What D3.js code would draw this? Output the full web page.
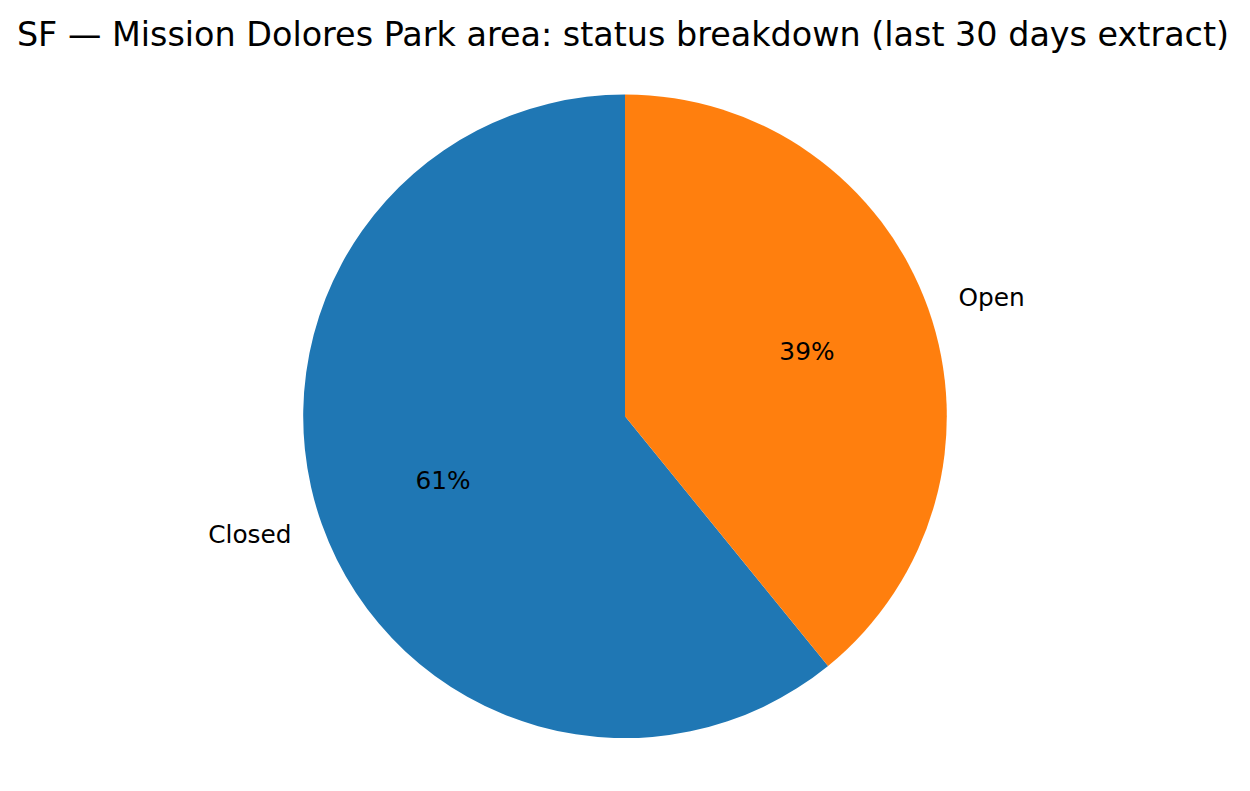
<!DOCTYPE html>
<html>
<head>
<meta charset="utf-8">
<script src="https://cdn.jsdelivr.net/npm/d3@7"></script>
<style>
  html, body { margin: 0; padding: 0; background: #fff; }
  svg { display: block; }
  text { font-family: "DejaVu Sans", sans-serif; fill: #000; }
</style>
</head>
<body>
<svg id="chart" width="1250" height="791"></svg>
<script>
const title = "SF — Mission Dolores Park area: status breakdown (last 30 days extract)";
const categories = ["Closed", "Open"];
const counts = [14, 9];
const colors = ["#1f77b4", "#ff7f0e"];

const W = 1250, H = 791;
const cx = 625, cy = 416.3, R = 321.8;

const svg = d3.select("#chart");

svg.append("text")
  .attr("x", 623)
  .attr("y", 46)
  .attr("text-anchor", "middle")
  .style("font-size", "33.4px")
  .text(title);

const data = categories.map((c, i) => ({ label: c, value: counts[i], color: colors[i] }));
const total = d3.sum(counts);

// matplotlib: startangle=90, counterclockwise -> D3: start 0, go negative
const pie = d3.pie().sort(null).value(d => d.value).startAngle(0).endAngle(-2 * Math.PI);
const arcs = pie(data);

const arc = d3.arc().innerRadius(0).outerRadius(R);
const pctArc = d3.arc().innerRadius(R * 0.6).outerRadius(R * 0.6);
const lblArc = d3.arc().innerRadius(R * 1.1).outerRadius(R * 1.1);

const g = svg.append("g").attr("transform", `translate(${cx},${cy})`);

g.selectAll("path.slice")
  .data(arcs)
  .join("path")
  .attr("class", "slice")
  .attr("d", arc)
  .attr("fill", d => d.data.color);

const dy = 8.5;

g.selectAll("text.pct")
  .data(arcs)
  .join("text")
  .attr("class", "pct")
  .attr("x", d => pctArc.centroid(d)[0])
  .attr("y", d => pctArc.centroid(d)[1] + dy)
  .attr("text-anchor", "middle")
  .style("font-size", "24.8px")
  .text(d => Math.round(d.value / total * 100) + "%");

g.selectAll("text.lbl")
  .data(arcs)
  .join("text")
  .attr("class", "lbl")
  .attr("x", d => lblArc.centroid(d)[0])
  .attr("y", d => lblArc.centroid(d)[1] + dy)
  .attr("text-anchor", d => lblArc.centroid(d)[0] < 0 ? "end" : "start")
  .style("font-size", "24.8px")
  .text(d => d.data.label);
</script>
</body>
</html>
